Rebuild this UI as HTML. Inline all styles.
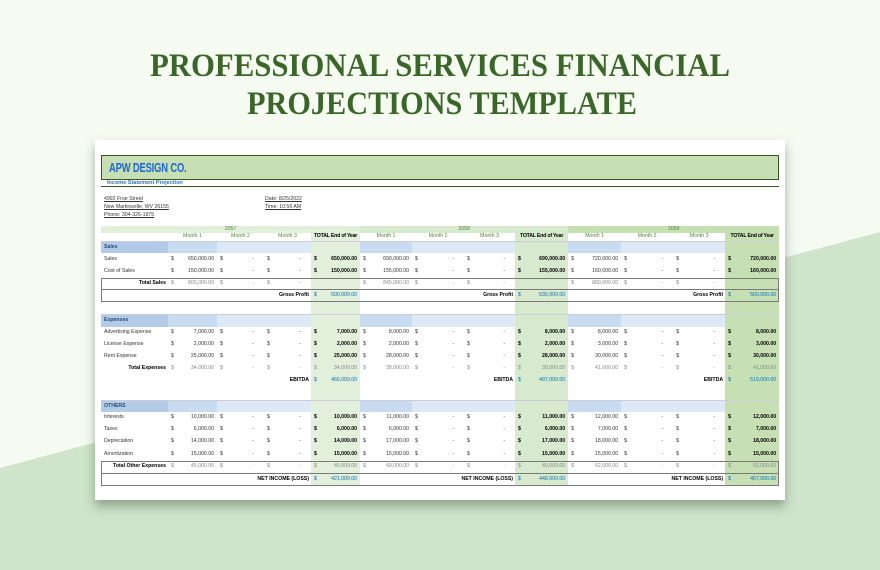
<!DOCTYPE html>
<html><head><meta charset="utf-8"><style>
*{margin:0;padding:0;box-sizing:border-box}
body{width:880px;height:570px;overflow:hidden;position:relative;background:#f6fbf2;font-family:"Liberation Sans",sans-serif}
#bg{position:absolute;left:0;top:0}
#paper{position:absolute;left:95px;top:140px;width:690px;height:360px;background:#fff;box-shadow:0 6px 10px rgba(60,80,60,.45)}
.hdr{position:absolute;left:101px;top:155px;width:678px;height:25px;background:#c6e0b4;border:1px solid #385723}
.hdr b{position:absolute;left:7px;top:4px;font:bold 13px "Liberation Sans",sans-serif;color:#1f66d1;transform:scaleX(.72);transform-origin:left;letter-spacing:-.2px}
.sub{position:absolute;left:101px;top:180px;width:678px;height:7px;border-bottom:1px solid #385723;font:bold 5.5px "Liberation Sans",sans-serif;color:#2f75b5;padding-left:6px;line-height:7px}
.ad{position:absolute;font-size:5.2px;color:#333;text-decoration:underline;line-height:8px}
table{position:absolute;left:101px;top:226px;border-collapse:collapse;table-layout:fixed;width:678px;font-size:5.2px;color:#333}
td{padding:0 3px;text-align:right;white-space:nowrap;overflow:hidden;line-height:1}
td i{float:left;font-style:normal}
td.z{padding-right:10px}
.t1{background:#e2efda}.t2{background:#d8eacd}.t3{background:#c6e0b4}
.yr td{height:7px;text-align:center;color:#548235}
.mo td{height:8px;text-align:center;color:#548235}
.mo td.t1,.mo td.t2,.mo td.t3{color:#000;font-weight:bold;text-align:center;padding:0;letter-spacing:-.2px;overflow:visible}
.sh td{background:#ddeaf6;border-top:1px solid #ccd}
.sh td.l{background:#b4cbe8;color:#1f4e79;font-weight:bold;text-align:left}
.sh td.m{background:#c9dbf1}
.sh td.t1{background:#e2efda}.sh td.t2{background:#d8eacd}.sh td.t3{background:#c6e0b4}
td.l{text-align:left}
.b td.t1,.b td.t2,.b td.t3{font-weight:bold;color:#000}
.g td{color:#888}
.g td.lb{color:#000;font-weight:bold}
td.lb{color:#000;font-weight:bold;overflow:visible;padding-right:2px}
.p td.lb{direction:rtl}
td.bl{color:#0070c0}
td.bl i{color:#0070c0}
.box{position:absolute;left:101px;width:678px;border:1px solid #7a7a7a}
</style></head><body>
<svg id="bg" width="880" height="570"><polygon points="0,468 880,232 880,570 0,570" fill="#cfe4cb"/>
<text x="440" y="76" text-anchor="middle" font-family="Liberation Serif,serif" font-weight="bold" font-size="33" fill="#3b6629" textLength="580" lengthAdjust="spacingAndGlyphs">PROFESSIONAL SERVICES FINANCIAL</text>
<text x="442" y="114" text-anchor="middle" font-family="Liberation Serif,serif" font-weight="bold" font-size="33" fill="#3b6629" textLength="390" lengthAdjust="spacingAndGlyphs">PROJECTIONS TEMPLATE</text></svg>
<div id="paper"></div>
<div class="hdr"><b>APW DESIGN CO.</b></div>
<div class="sub">Income Statement Projection</div>
<div class="ad" style="left:104px;top:195px">4992 Froe Street<br>New Martinsville, WV 26155<br>Phone: 304-326-1975</div>
<div class="ad" style="left:265px;top:195px">Date: 8/25/2022<br>Time: 10:56 AM</div>
<table>
<colgroup><col style="width:67px"><col style="width:49px"><col style="width:47px"><col style="width:47px"><col style="width:49px"><col style="width:52px"><col style="width:52px"><col style="width:51px"><col style="width:53px"><col style="width:53px"><col style="width:52px"><col style="width:52px"><col style="width:54px"></colgroup>
<tr class="yr"><td class="t1" colspan="5">2057</td><td class="t2" colspan="4">2058</td><td class="t3" colspan="4">2059</td></tr>
<tr class="mo"><td></td><td>Month 1</td><td>Month 2</td><td>Month 3</td><td class="t1">TOTAL End of Year</td><td>Month 1</td><td>Month 2</td><td>Month 3</td><td class="t2">TOTAL End of Year</td><td>Month 1</td><td>Month 2</td><td>Month 3</td><td class="t3">TOTAL End of Year</td></tr>
<tr class="sh" style="height:12px"><td class="l">Sales</td><td class="m"></td><td></td><td></td><td class="t1"></td><td class="m"></td><td></td><td></td><td class="t2"></td><td class="m"></td><td></td><td></td><td class="t3"></td></tr>
<tr class="b" style="height:13px"><td class="l">Sales</td><td><i>$</i>650,000.00</td><td class="z"><i>$</i>-</td><td class="z"><i>$</i>-</td><td class="t1"><i>$</i>650,000.00</td><td><i>$</i>690,000.00</td><td class="z"><i>$</i>-</td><td class="z"><i>$</i>-</td><td class="t2"><i>$</i>690,000.00</td><td><i>$</i>720,000.00</td><td class="z"><i>$</i>-</td><td class="z"><i>$</i>-</td><td class="t3"><i>$</i>720,000.00</td></tr>
<tr class="b" style="height:12px"><td class="l">Cost of Sales</td><td><i>$</i>150,000.00</td><td class="z"><i>$</i>-</td><td class="z"><i>$</i>-</td><td class="t1"><i>$</i>150,000.00</td><td><i>$</i>155,000.00</td><td class="z"><i>$</i>-</td><td class="z"><i>$</i>-</td><td class="t2"><i>$</i>155,000.00</td><td><i>$</i>160,000.00</td><td class="z"><i>$</i>-</td><td class="z"><i>$</i>-</td><td class="t3"><i>$</i>160,000.00</td></tr>
<tr class="g" style="height:12px"><td class="lb">Total Sales</td><td><i>$</i>800,000.00</td><td class="z"><i>$</i>-</td><td class="z"><i>$</i>-</td><td class="t1"></td><td><i>$</i>845,000.00</td><td class="z"><i>$</i>-</td><td class="z"><i>$</i>-</td><td class="t2"></td><td><i>$</i>880,000.00</td><td class="z"><i>$</i>-</td><td class="z"><i>$</i>-</td><td class="t3"></td></tr>
<tr class="p" style="height:12px"><td></td><td></td><td></td><td class="lb">Gross Profit</td><td class="t1 bl"><i>$</i>500,000.00</td><td></td><td></td><td class="lb">Gross Profit</td><td class="t2 bl"><i>$</i>535,000.00</td><td></td><td></td><td class="lb">Gross Profit</td><td class="t3 bl"><i>$</i>560,000.00</td></tr>
<tr style="height:12px"><td></td><td></td><td></td><td></td><td class="t1"></td><td></td><td></td><td></td><td class="t2"></td><td></td><td></td><td></td><td class="t3"></td></tr>
<tr class="sh" style="height:13px"><td class="l">Expenses</td><td class="m"></td><td></td><td></td><td class="t1"></td><td class="m"></td><td></td><td></td><td class="t2"></td><td class="m"></td><td></td><td></td><td class="t3"></td></tr>
<tr class="b" style="height:12px"><td class="l">Advertising Expense</td><td><i>$</i>7,000.00</td><td class="z"><i>$</i>-</td><td class="z"><i>$</i>-</td><td class="t1"><i>$</i>7,000.00</td><td><i>$</i>8,000.00</td><td class="z"><i>$</i>-</td><td class="z"><i>$</i>-</td><td class="t2"><i>$</i>8,000.00</td><td><i>$</i>8,000.00</td><td class="z"><i>$</i>-</td><td class="z"><i>$</i>-</td><td class="t3"><i>$</i>8,000.00</td></tr>
<tr class="b" style="height:12px"><td class="l">License Expense</td><td><i>$</i>2,000.00</td><td class="z"><i>$</i>-</td><td class="z"><i>$</i>-</td><td class="t1"><i>$</i>2,000.00</td><td><i>$</i>2,000.00</td><td class="z"><i>$</i>-</td><td class="z"><i>$</i>-</td><td class="t2"><i>$</i>2,000.00</td><td><i>$</i>3,000.00</td><td class="z"><i>$</i>-</td><td class="z"><i>$</i>-</td><td class="t3"><i>$</i>3,000.00</td></tr>
<tr class="b" style="height:12px"><td class="l">Rent Expense</td><td><i>$</i>25,000.00</td><td class="z"><i>$</i>-</td><td class="z"><i>$</i>-</td><td class="t1"><i>$</i>25,000.00</td><td><i>$</i>28,000.00</td><td class="z"><i>$</i>-</td><td class="z"><i>$</i>-</td><td class="t2"><i>$</i>28,000.00</td><td><i>$</i>30,000.00</td><td class="z"><i>$</i>-</td><td class="z"><i>$</i>-</td><td class="t3"><i>$</i>30,000.00</td></tr>
<tr class="g" style="height:12px"><td class="lb">Total Expenses</td><td><i>$</i>34,000.00</td><td class="z"><i>$</i>-</td><td class="z"><i>$</i>-</td><td class="t1"><i>$</i>34,000.00</td><td><i>$</i>38,000.00</td><td class="z"><i>$</i>-</td><td class="z"><i>$</i>-</td><td class="t2"><i>$</i>38,000.00</td><td><i>$</i>41,000.00</td><td class="z"><i>$</i>-</td><td class="z"><i>$</i>-</td><td class="t3"><i>$</i>41,000.00</td></tr>
<tr class="p" style="height:12px"><td></td><td></td><td></td><td class="lb">EBITDA</td><td class="t1 bl"><i>$</i>466,000.00</td><td></td><td></td><td class="lb">EBITDA</td><td class="t2 bl"><i>$</i>497,000.00</td><td></td><td></td><td class="lb">EBITDA</td><td class="t3 bl"><i>$</i>519,000.00</td></tr>
<tr style="height:13px"><td></td><td></td><td></td><td></td><td class="t1"></td><td></td><td></td><td></td><td class="t2"></td><td></td><td></td><td></td><td class="t3"></td></tr>
<tr class="sh" style="height:12px"><td class="l">OTHERS</td><td class="m"></td><td></td><td></td><td class="t1"></td><td class="m"></td><td></td><td></td><td class="t2"></td><td class="m"></td><td></td><td></td><td class="t3"></td></tr>
<tr class="b" style="height:12px"><td class="l">Interests</td><td><i>$</i>10,000.00</td><td class="z"><i>$</i>-</td><td class="z"><i>$</i>-</td><td class="t1"><i>$</i>10,000.00</td><td><i>$</i>11,000.00</td><td class="z"><i>$</i>-</td><td class="z"><i>$</i>-</td><td class="t2"><i>$</i>11,000.00</td><td><i>$</i>12,000.00</td><td class="z"><i>$</i>-</td><td class="z"><i>$</i>-</td><td class="t3"><i>$</i>12,000.00</td></tr>
<tr class="b" style="height:12px"><td class="l">Taxes</td><td><i>$</i>6,000.00</td><td class="z"><i>$</i>-</td><td class="z"><i>$</i>-</td><td class="t1"><i>$</i>6,000.00</td><td><i>$</i>6,000.00</td><td class="z"><i>$</i>-</td><td class="z"><i>$</i>-</td><td class="t2"><i>$</i>6,000.00</td><td><i>$</i>7,000.00</td><td class="z"><i>$</i>-</td><td class="z"><i>$</i>-</td><td class="t3"><i>$</i>7,000.00</td></tr>
<tr class="b" style="height:12px"><td class="l">Depreciation</td><td><i>$</i>14,000.00</td><td class="z"><i>$</i>-</td><td class="z"><i>$</i>-</td><td class="t1"><i>$</i>14,000.00</td><td><i>$</i>17,000.00</td><td class="z"><i>$</i>-</td><td class="z"><i>$</i>-</td><td class="t2"><i>$</i>17,000.00</td><td><i>$</i>18,000.00</td><td class="z"><i>$</i>-</td><td class="z"><i>$</i>-</td><td class="t3"><i>$</i>18,000.00</td></tr>
<tr class="b" style="height:13px"><td class="l">Amortization</td><td><i>$</i>15,000.00</td><td class="z"><i>$</i>-</td><td class="z"><i>$</i>-</td><td class="t1"><i>$</i>15,000.00</td><td><i>$</i>15,000.00</td><td class="z"><i>$</i>-</td><td class="z"><i>$</i>-</td><td class="t2"><i>$</i>15,000.00</td><td><i>$</i>15,000.00</td><td class="z"><i>$</i>-</td><td class="z"><i>$</i>-</td><td class="t3"><i>$</i>15,000.00</td></tr>
<tr class="g" style="height:12px"><td class="lb">Total Other Expenses</td><td><i>$</i>45,000.00</td><td class="z"><i>$</i>-</td><td class="z"><i>$</i>-</td><td class="t1"><i>$</i>45,000.00</td><td><i>$</i>49,000.00</td><td class="z"><i>$</i>-</td><td class="z"><i>$</i>-</td><td class="t2"><i>$</i>49,000.00</td><td><i>$</i>52,000.00</td><td class="z"><i>$</i>-</td><td class="z"><i>$</i>-</td><td class="t3"><i>$</i>52,000.00</td></tr>
<tr class="p" style="height:13px"><td></td><td></td><td></td><td class="lb">NET INCOME (LOSS)</td><td class="t1 bl"><i>$</i>421,000.00</td><td></td><td></td><td class="lb">NET INCOME (LOSS)</td><td class="t2 bl"><i>$</i>448,000.00</td><td></td><td></td><td class="lb">NET INCOME (LOSS)</td><td class="t3 bl"><i>$</i>467,000.00</td></tr>
</table>
<div class="box" style="top:278px;height:12px"></div>
<div class="box" style="top:289px;height:13px"></div>
<div class="box" style="top:461px;height:13px"></div>
<div class="box" style="top:473px;height:13px"></div>
</body></html>
